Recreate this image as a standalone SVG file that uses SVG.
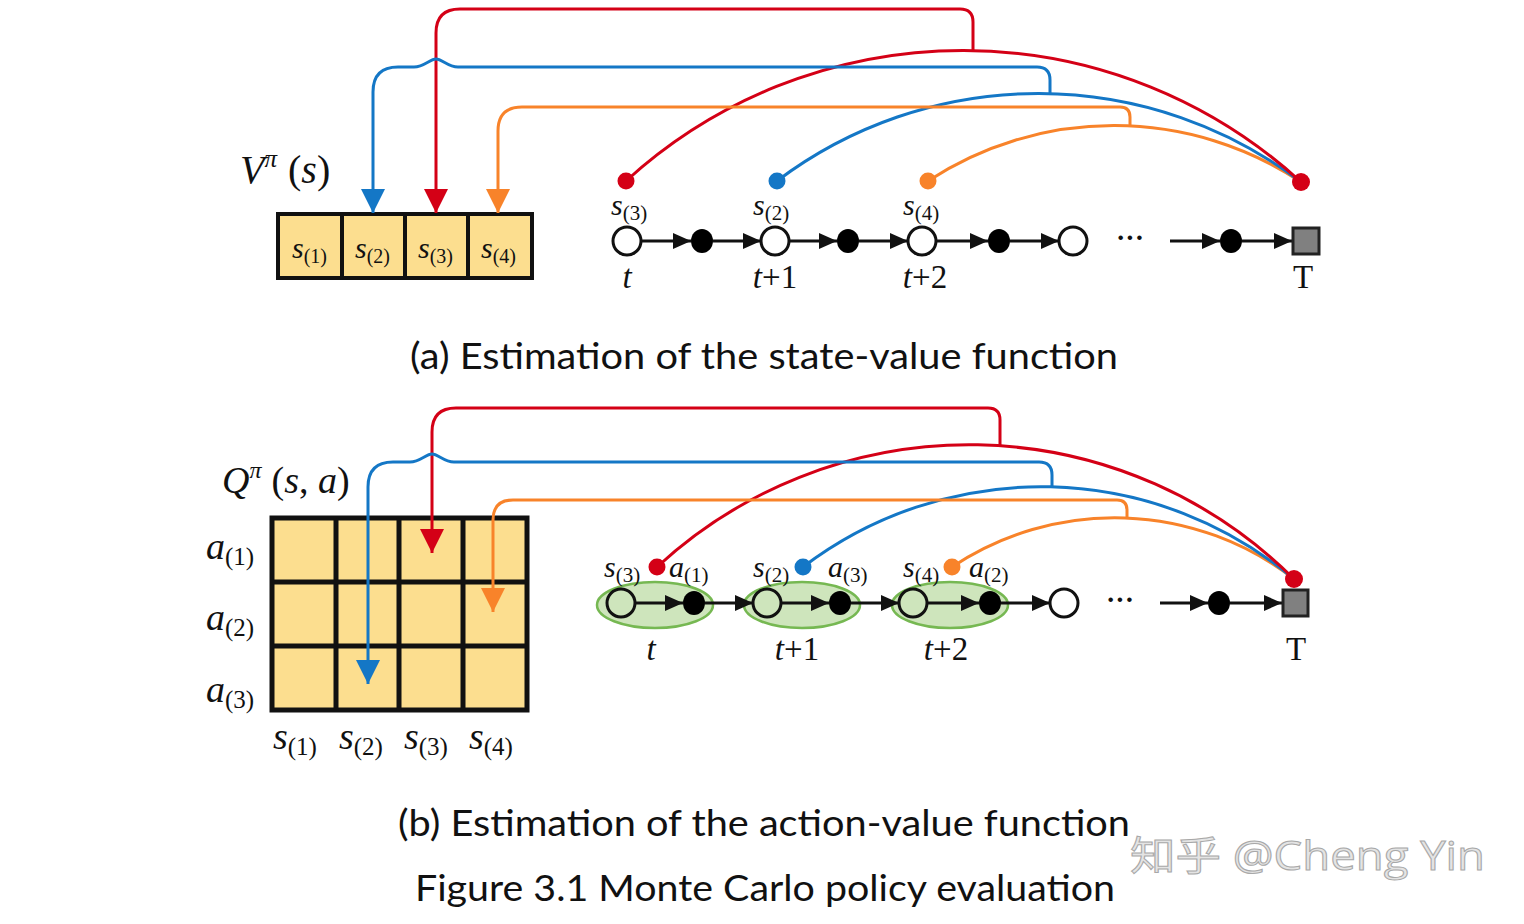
<svg xmlns="http://www.w3.org/2000/svg" width="1524" height="924" viewBox="0 0 1524 924">
<defs>
<style>
.math{font-family:"Liberation Serif","DejaVu Serif",serif;fill:#111}
.it{font-style:italic}
.cap{font-family:Lato,"Open Sans",sans-serif;font-size:36px;fill:#111}
.cell{fill:#FCDE8F;stroke:#111}
.link{fill:none;stroke:#111;stroke-width:3}
.red{fill:none;stroke:#D40016;stroke-width:3}
.blue{fill:none;stroke:#1477C6;stroke-width:3}
.orange{fill:none;stroke:#F8832A;stroke-width:3}
.open{fill:#fff;stroke:#111;stroke-width:3}
.ingreen{fill:none;stroke:#111;stroke-width:3}
.dot{fill:#000}
.term{fill:#808080;stroke:#222;stroke-width:3}
.ell{fill:#C5E0B0;fill-opacity:0.85;stroke:#76B852;stroke-width:2.5}
</style>
<marker id="ah" viewBox="0 0 18 16" refX="18" refY="8" markerWidth="18" markerHeight="16" markerUnits="userSpaceOnUse" orient="auto"><path d="M0,0 L18,8 L0,16 z" fill="#111"/></marker>
<marker id="ahR" viewBox="0 0 24 24" refX="24" refY="12" markerWidth="24" markerHeight="24" markerUnits="userSpaceOnUse" orient="auto"><path d="M0,0 L24,12 L0,24 z" fill="#D40016"/></marker>
<marker id="ahB" viewBox="0 0 24 24" refX="24" refY="12" markerWidth="24" markerHeight="24" markerUnits="userSpaceOnUse" orient="auto"><path d="M0,0 L24,12 L0,24 z" fill="#1477C6"/></marker>
<marker id="ahO" viewBox="0 0 24 24" refX="24" refY="12" markerWidth="24" markerHeight="24" markerUnits="userSpaceOnUse" orient="auto"><path d="M0,0 L24,12 L0,24 z" fill="#F8832A"/></marker>
</defs>
<rect width="1524" height="924" fill="#fff"/>

<!-- ===== (a) ===== -->
<g id="a-table">
<text class="math" x="240" y="183" font-size="40"><tspan class="it">V</tspan><tspan class="it" font-size="25" dy="-16">π</tspan><tspan dy="16" dx="11">(</tspan><tspan class="it">s</tspan><tspan>)</tspan></text>
<rect class="cell" x="278" y="214" width="64" height="64" stroke-width="4"/>
<rect class="cell" x="342" y="214" width="63" height="64" stroke-width="4"/>
<rect class="cell" x="405" y="214" width="63" height="64" stroke-width="4"/>
<rect class="cell" x="468" y="214" width="64" height="64" stroke-width="4"/>
<text class="math" x="292" y="258" font-size="30"><tspan class="it">s</tspan><tspan font-size="20" dy="5">(1)</tspan></text>
<text class="math" x="355" y="258" font-size="30"><tspan class="it">s</tspan><tspan font-size="20" dy="5">(2)</tspan></text>
<text class="math" x="418" y="258" font-size="30"><tspan class="it">s</tspan><tspan font-size="20" dy="5">(3)</tspan></text>
<text class="math" x="481" y="258" font-size="30"><tspan class="it">s</tspan><tspan font-size="20" dy="5">(4)</tspan></text>
</g>

<g id="a-chain">
<line class="link" x1="641" y1="241" x2="691" y2="241" marker-end="url(#ah)"/>
<line class="link" x1="713" y1="241" x2="761" y2="241" marker-end="url(#ah)"/>
<line class="link" x1="789" y1="241" x2="837" y2="241" marker-end="url(#ah)"/>
<line class="link" x1="859" y1="241" x2="908" y2="241" marker-end="url(#ah)"/>
<line class="link" x1="936" y1="241" x2="988" y2="241" marker-end="url(#ah)"/>
<line class="link" x1="1010" y1="241" x2="1059" y2="241" marker-end="url(#ah)"/>
<line class="link" x1="1170" y1="241" x2="1220" y2="241" marker-end="url(#ah)"/>
<line class="link" x1="1242" y1="241" x2="1292" y2="241" marker-end="url(#ah)"/>
<circle class="open" cx="627" cy="241" r="14"/>
<ellipse class="dot" cx="702" cy="241" rx="11" ry="12"/>
<circle class="open" cx="775" cy="241" r="14"/>
<ellipse class="dot" cx="848" cy="241" rx="11" ry="12"/>
<circle class="open" cx="922" cy="241" r="14"/>
<ellipse class="dot" cx="999" cy="241" rx="11" ry="12"/>
<circle class="open" cx="1073" cy="241" r="14"/>
<ellipse class="dot" cx="1231" cy="241" rx="11" ry="12"/>
<rect class="term" x="1293" y="228" width="26" height="26"/>
<text class="math" x="1130" y="247" font-size="28" font-weight="bold" text-anchor="middle">···</text>
<text class="math" x="611" y="215" font-size="30"><tspan class="it">s</tspan><tspan font-size="21" dy="5">(3)</tspan></text>
<text class="math" x="753" y="215" font-size="30"><tspan class="it">s</tspan><tspan font-size="21" dy="5">(2)</tspan></text>
<text class="math" x="903" y="215" font-size="30"><tspan class="it">s</tspan><tspan font-size="21" dy="5">(4)</tspan></text>
<text class="math" x="627" y="288" font-size="33" text-anchor="middle"><tspan class="it">t</tspan></text>
<text class="math" x="775" y="288" font-size="33" text-anchor="middle"><tspan class="it">t</tspan>+1</text>
<text class="math" x="925" y="288" font-size="33" text-anchor="middle"><tspan class="it">t</tspan>+2</text>
<text class="math" x="1303" y="288" font-size="33" text-anchor="middle">T</text>
</g>

<g id="a-connectors">
<path class="orange" d="M928,181 A339,339 0 0 1 1301,182"/>
<path class="blue" d="M777,181 A434,434 0 0 1 1301,182"/>
<path class="red" d="M626,181 A500,500 0 0 1 1301,182"/>
<path class="red" d="M973,50 V22 Q973,9 960,9 H460 Q436,9 436,33 V213" marker-end="url(#ahR)"/>
<path class="blue" d="M1050,93 V80 Q1050,67 1037,67 H458 C448,67 442,59 436,59 C430,59 424,67 414,67 H398 Q373,67 373,92 V213" marker-end="url(#ahB)"/>
<path class="orange" d="M1130,125 V117 Q1130,107 1120,107 H522 Q498,107 498,131 V213" marker-end="url(#ahO)"/>
<circle cx="626" cy="181" r="8.5" fill="#D40016"/>
<circle cx="777" cy="181" r="8.5" fill="#1477C6"/>
<circle cx="928" cy="181" r="8.5" fill="#F8832A"/>
<circle cx="1301" cy="182" r="9" fill="#D40016"/>
</g>

<text id="cap-a" class="cap" x="410" y="369" textLength="708" lengthAdjust="spacingAndGlyphs">(a) Estimation of the state-value function</text>

<!-- ===== (b) ===== -->
<g id="b-grid">
<text class="math" x="222" y="493" font-size="38"><tspan class="it">Q</tspan><tspan class="it" font-size="24" dy="-15">π</tspan><tspan dy="15" dx="10">(</tspan><tspan class="it">s</tspan><tspan>, </tspan><tspan class="it">a</tspan><tspan>)</tspan></text>
<rect x="272" y="518" width="255" height="192" fill="#FCDE8F"/>
<g stroke="#111" stroke-width="5" fill="none">
<rect x="272" y="518" width="255" height="192"/>
<line x1="336" y1="518" x2="336" y2="710"/>
<line x1="399" y1="518" x2="399" y2="710"/>
<line x1="463" y1="518" x2="463" y2="710"/>
<line x1="272" y1="582" x2="527" y2="582"/>
<line x1="272" y1="646" x2="527" y2="646"/>
</g>
<text class="math" x="206" y="559" font-size="38"><tspan class="it">a</tspan><tspan font-size="25" dy="6">(1)</tspan></text>
<text class="math" x="206" y="630" font-size="38"><tspan class="it">a</tspan><tspan font-size="25" dy="6">(2)</tspan></text>
<text class="math" x="206" y="702" font-size="38"><tspan class="it">a</tspan><tspan font-size="25" dy="6">(3)</tspan></text>
<text class="math" x="273" y="749" font-size="38"><tspan class="it">s</tspan><tspan font-size="25" dy="6">(1)</tspan></text>
<text class="math" x="339" y="749" font-size="38"><tspan class="it">s</tspan><tspan font-size="25" dy="6">(2)</tspan></text>
<text class="math" x="404" y="749" font-size="38"><tspan class="it">s</tspan><tspan font-size="25" dy="6">(3)</tspan></text>
<text class="math" x="469" y="749" font-size="38"><tspan class="it">s</tspan><tspan font-size="25" dy="6">(4)</tspan></text>
</g>

<g id="b-chain">
<ellipse class="ell" cx="655" cy="605" rx="58" ry="23"/>
<ellipse class="ell" cx="802" cy="605" rx="58" ry="23"/>
<ellipse class="ell" cx="950" cy="605" rx="58" ry="23"/>
<line class="link" x1="635" y1="603" x2="683" y2="603" marker-end="url(#ah)"/>
<line class="link" x1="705" y1="603" x2="753" y2="603" marker-end="url(#ah)"/>
<line class="link" x1="781" y1="603" x2="829" y2="603" marker-end="url(#ah)"/>
<line class="link" x1="851" y1="603" x2="899" y2="603" marker-end="url(#ah)"/>
<line class="link" x1="927" y1="603" x2="979" y2="603" marker-end="url(#ah)"/>
<line class="link" x1="1001" y1="603" x2="1050" y2="603" marker-end="url(#ah)"/>
<line class="link" x1="1160" y1="603" x2="1208" y2="603" marker-end="url(#ah)"/>
<line class="link" x1="1230" y1="603" x2="1282" y2="603" marker-end="url(#ah)"/>
<circle class="ingreen" cx="621" cy="603" r="14"/>
<ellipse class="dot" cx="694" cy="603" rx="11" ry="12"/>
<circle class="ingreen" cx="767" cy="603" r="14"/>
<ellipse class="dot" cx="840" cy="603" rx="11" ry="12"/>
<circle class="ingreen" cx="913" cy="603" r="14"/>
<ellipse class="dot" cx="990" cy="603" rx="11" ry="12"/>
<circle class="open" cx="1064" cy="603" r="14"/>
<ellipse class="dot" cx="1219" cy="603" rx="11" ry="12"/>
<rect class="term" x="1283" y="590" width="25" height="26"/>
<text class="math" x="1120" y="609" font-size="28" font-weight="bold" text-anchor="middle">···</text>
<text class="math" x="604" y="577" font-size="30"><tspan class="it">s</tspan><tspan font-size="21" dy="5">(3)</tspan></text>
<text class="math" x="669" y="577" font-size="30"><tspan class="it">a</tspan><tspan font-size="21" dy="5">(1)</tspan></text>
<text class="math" x="753" y="577" font-size="30"><tspan class="it">s</tspan><tspan font-size="21" dy="5">(2)</tspan></text>
<text class="math" x="828" y="577" font-size="30"><tspan class="it">a</tspan><tspan font-size="21" dy="5">(3)</tspan></text>
<text class="math" x="903" y="577" font-size="30"><tspan class="it">s</tspan><tspan font-size="21" dy="5">(4)</tspan></text>
<text class="math" x="969" y="577" font-size="30"><tspan class="it">a</tspan><tspan font-size="21" dy="5">(2)</tspan></text>
<text class="math" x="651" y="660" font-size="33" text-anchor="middle"><tspan class="it">t</tspan></text>
<text class="math" x="797" y="660" font-size="33" text-anchor="middle"><tspan class="it">t</tspan>+1</text>
<text class="math" x="946" y="660" font-size="33" text-anchor="middle"><tspan class="it">t</tspan>+2</text>
<text class="math" x="1296" y="660" font-size="33" text-anchor="middle">T</text>
</g>

<g id="b-connectors">
<path class="orange" d="M952,567 A293,293 0 0 1 1294,579"/>
<path class="blue" d="M803,567 A393,393 0 0 1 1294,579"/>
<path class="red" d="M657,567 A460,460 0 0 1 1294,579"/>
<path class="red" d="M1000,446 V420 Q1000,408 988,408 H456 Q432,408 432,432 V553" marker-end="url(#ahR)"/>
<path class="blue" d="M1052,488 V475 Q1052,462 1039,462 H454 C444,462 438,454 432,454 C426,454 420,462 410,462 H393 Q368,462 368,487 V684" marker-end="url(#ahB)"/>
<path class="orange" d="M1127,519 V510 Q1127,500 1117,500 H513 Q493,500 493,520 V612" marker-end="url(#ahO)"/>
<circle cx="657" cy="567" r="8.5" fill="#D40016"/>
<circle cx="803" cy="567" r="8.5" fill="#1477C6"/>
<circle cx="952" cy="567" r="8.5" fill="#F8832A"/>
<circle cx="1294" cy="579" r="9" fill="#D40016"/>
</g>

<text id="cap-b" class="cap" x="398" y="836" textLength="732" lengthAdjust="spacingAndGlyphs">(b) Estimation of the action-value function</text>
<text id="cap-fig" class="cap" x="415" y="901" textLength="700" lengthAdjust="spacingAndGlyphs">Figure 3.1 Monte Carlo policy evaluation</text>
<text id="watermark" x="1130" y="870" font-family="'Open Sans','Noto Sans CJK SC',sans-serif" font-size="40" fill="#e4e4e4" stroke="#a8a8a8" stroke-width="1" textLength="355" lengthAdjust="spacingAndGlyphs">知乎 @Cheng Yin</text>
</svg>
